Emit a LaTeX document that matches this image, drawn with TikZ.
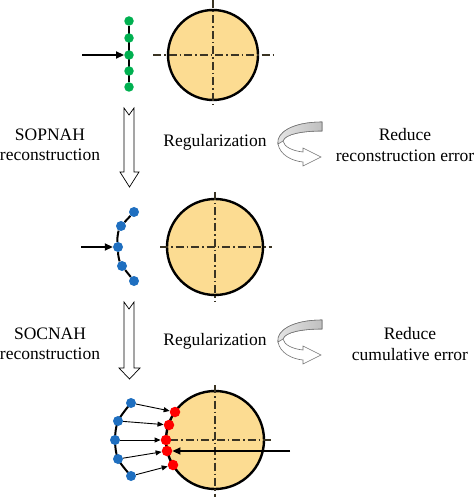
\documentclass[tikz,border=0pt]{standalone}
\usepackage{fontspec}
\setmainfont{Liberation Serif}
\usepackage{tikz}
\usetikzlibrary{arrows.meta, positioning, backgrounds, calc}
\definecolor{diskFill}{HTML}{FCDC92}
\definecolor{holoGreen}{HTML}{00B050}
\definecolor{holoBlue}{HTML}{1F6FC0}
\definecolor{holoRed}{HTML}{FF0000}
\definecolor{axisLine}{HTML}{3A3424}

\begin{document}
\begin{tikzpicture}[
  x=1pt, y=-1pt,
  font=\fontsize{17.5}{20.5}\selectfont,
  disk/.style={circle, draw, line width=2.4pt, fill=diskFill, inner sep=0pt, outer sep=0pt},
  gdot/.style={circle, fill=holoGreen, minimum size=9.5pt, inner sep=0pt},
  bdot/.style={circle, fill=holoBlue, minimum size=10pt, inner sep=0pt},
  rdot/.style={circle, fill=holoRed, minimum size=10.5pt, inner sep=0pt},
  axis/.style={draw=axisLine, line width=1.1pt, dash pattern=on 8pt off 3pt on 1.5pt off 3pt},
  chain/.style={line width=2pt},
  a/.style={-{Triangle[length=8pt, width=7pt]}, line width=1.8pt},
  ray/.style={-{Triangle[length=6pt, width=5pt]}, line width=0.9pt},
  hollow/.style={draw, fill=white, line width=0.7pt},
  label/.style={align=center, inner sep=0pt},
  regicon/.pic={
    \path[draw=black!55, fill=white, line width=0.6pt]
      (22,-22) .. controls (-8,-22) and (-24,-11) .. (-22,0)
      .. controls (-20,11) and (-8,17) .. (3,18) -- (3,22) -- (21,13) -- (3,4) -- (3,8)
      .. controls (-7,7) and (-16,3) .. (-17,-3)
      .. controls (-15,-10) and (3,-13) .. (22,-13) -- cycle;
    \path[draw=black!55, left color=gray!20, right color=gray!50, line width=0.6pt]
      (22,-22) .. controls (-8,-22) and (-24,-11) .. (-22,0) -- (-17,-3)
      .. controls (-15,-10) and (3,-13) .. (22,-13) -- cycle;
  }
]
\useasboundingbox (0,0) rectangle (474,502);

% top: planar hologram
\node[disk, minimum size=90pt] (c1) at (213,55) {};
\draw[axis] (213,0) -- (213,108);
\draw[axis] (153,55) -- (275,55);
\node[gdot] (g1) at (129,21) {};
\node[gdot] (g2) at (129,38) {};
\node[gdot] (g3) at (129,55) {};
\node[gdot] (g4) at (129,71) {};
\node[gdot] (g5) at (129,87) {};
\begin{scope}[on background layer]
  \draw[chain] (g1) -- (g5);
\end{scope}
\coordinate (s1) at (82,55);
\draw[a] (s1) -- (g3);

% step 1
\path[hollow] (124,108) -- (129,115) -- (134,108) -- (134,172) -- (139,172) -- (129.5,187)
  -- (120,172) -- (124,172) -- cycle;
\node[label] (sop) at (50,145) {SOPNAH\\reconstruction};
\node[label] (reg1) at (215,142) {Regularization};
\pic at (300,144) {regicon};
\node[label] (red1) at (405,145) {Reduce\\reconstruction error};

% middle: conformal hologram
\node[disk, minimum size=96pt] (c2) at (215,247) {};
\draw[axis] (215,192) -- (215,302);
\draw[axis] (160,247) -- (272,247);
\node[bdot] (m1) at (134,212) {};
\node[bdot] (m2) at (121,226) {};
\node[bdot] (m3) at (118,247) {};
\node[bdot] (m4) at (122,266) {};
\node[bdot] (m5) at (134,281) {};
\begin{scope}[on background layer]
  \draw[chain] (m1) -- (m2) .. controls (118,232) and (117,240) .. (m3)
    .. controls (118,254) and (119,260) .. (m4) -- (m5);
\end{scope}
\coordinate (s2) at (81,247);
\draw[a] (s2) -- (m3);

% step 2
\path[hollow] (124,302) -- (129,309) -- (134,302) -- (134,368) -- (140,368) -- (129.5,379)
  -- (119,368) -- (124,368) -- cycle;
\node[label] (soc) at (50,344) {SOCNAH\\reconstruction};
\node[label] (reg2) at (215,341) {Regularization};
\pic at (300,342) {regicon};
\node[label] (red2) at (410,344) {Reduce\\cumulative error};

% bottom: cumulative reconstruction
\node[disk, minimum size=98pt] (c3) at (215,440) {};
\draw[axis] (215,385) -- (215,497);
\draw[axis] (170,440) -- (272,440);
\node[bdot] (b1) at (131,403) {};
\node[bdot] (b2) at (118,421) {};
\node[bdot] (b3) at (115,440) {};
\node[bdot] (b4) at (118,459) {};
\node[bdot] (b5) at (131,476) {};
\begin{scope}[on background layer]
  \draw[chain] plot[smooth] coordinates {(b1) (b2) (b3) (b4) (b5)};
\end{scope}
\node[rdot] (r1) at (175,412) {};
\node[rdot] (r2) at (169,425) {};
\node[rdot] (r3) at (166,440) {};
\node[rdot] (r4) at (167,451) {};
\node[rdot] (r5) at (173,465) {};
\foreach \i in {1,...,5}
  \draw[ray] (b\i) -- (r\i);
\coordinate (s3) at (290,451);
\draw[a] (s3) -- (r4);
\end{tikzpicture}
\end{document}
